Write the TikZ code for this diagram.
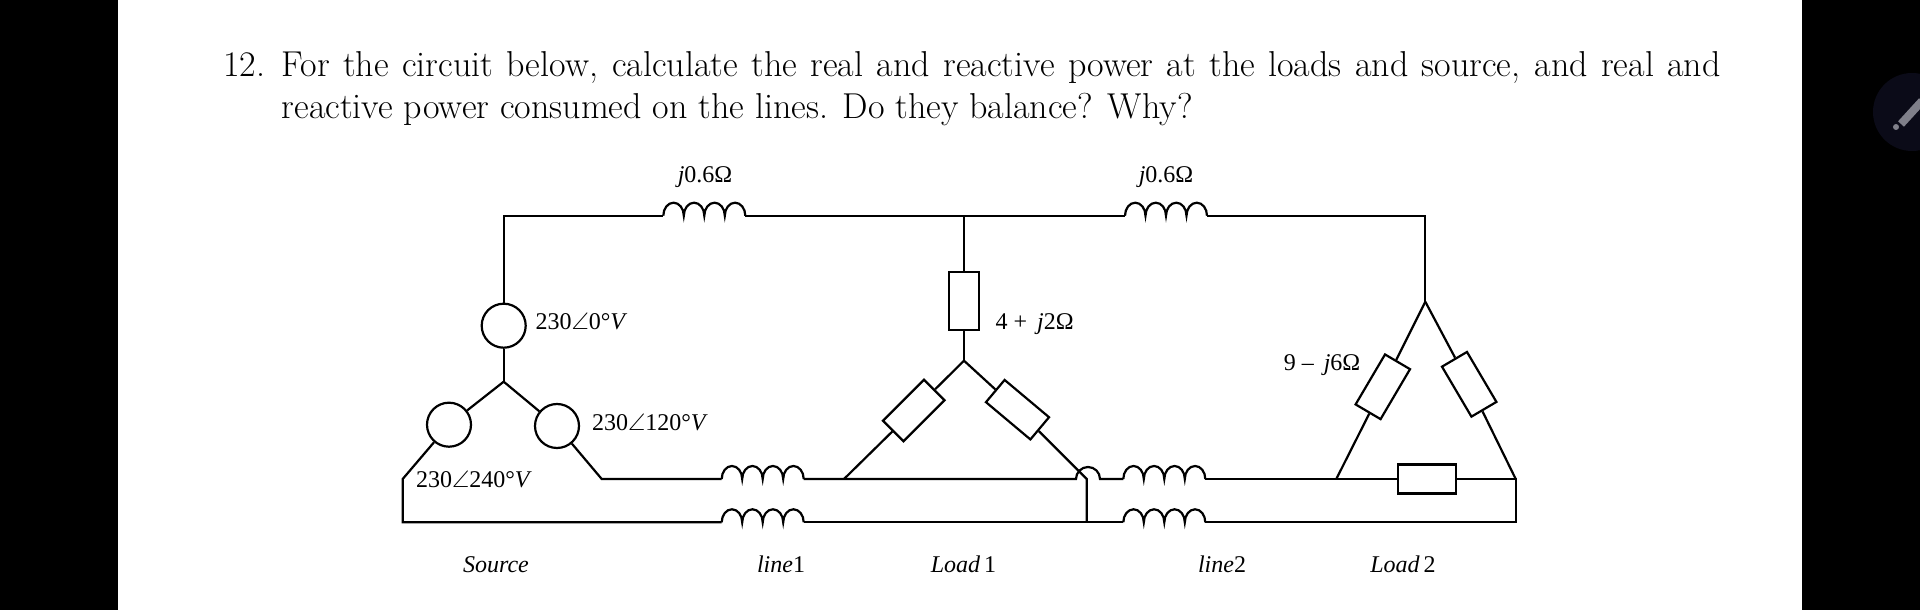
\documentclass[tikz,border=0pt]{standalone}
\usepackage{amssymb}
\usepackage{fontspec}
\newfontfamily\labelfont{Liberation Serif}
\definecolor{iconbg}{HTML}{0B0B18}
\definecolor{iconfg}{HTML}{80808A}
\tikzset{
  wire/.style={line width=2.2pt, line join=miter},
  source/.style={circle, draw=black, line width=2.2pt, minimum size=44pt, inner sep=0pt},
  load/.style={rectangle, draw=black, line width=2.2pt, minimum width=58pt, minimum height=29pt, inner sep=0pt},
  lab/.style={inner sep=0pt, font=\labelfont\fontsize{24}{24}\selectfont},
  question/.style={inner sep=0pt, anchor=base west, font=\fontsize{36}{41.7}\selectfont}
}
\newcommand{\coil}[3]{
\coordinate (#1a) at (#2,#3);
\coordinate (#1b) at (#2+82,#3);
\draw[wire] (#1a) arc[start angle=180, end angle=0, x radius=10.25pt, y radius=13pt]
  arc[start angle=180, end angle=0, x radius=10.25pt, y radius=13pt]
  arc[start angle=180, end angle=0, x radius=10.25pt, y radius=13pt]
  arc[start angle=180, end angle=0, x radius=10.25pt, y radius=13pt];
}
\begin{document}
\begin{tikzpicture}[x=1pt, y=1pt]
\useasboundingbox (0,0) rectangle (1920,610);
\fill[black] (0,0) rectangle (118,610);
\fill[black] (1802,0) rectangle (1920,610);
\begin{scope}
\clip (1802,0) rectangle (1920,610);
\fill[iconbg] (1912,498) circle (39);
\draw[iconfg, line width=8pt] (1901,486) -- (1922,509);
\fill[iconfg] (1896,483) circle (3);
\end{scope}

% question
\node[question] (num) at (223,533) {12.};
\node[question, text width=1439pt, align=justify] (text) at (281.5,533) {For the circuit below, calculate the real and reactive power at the loads and source, and real and\linebreak reactive power consumed on the lines. Do they balance? Why?};

% source
\node[source] (srcA) at (503.7,284.3) {};
\node[source] (srcC) at (449,185.3) {};
\node[source] (srcB) at (557,184) {};
\coordinate (star) at (503.7,228.3);
\coordinate (topleft) at (503.7,394.3);
\coordinate (cornerC) at (402.7,131);
\coordinate (cornerD) at (402.7,87.7);
\coordinate (cornerB) at (601.7,131);

% lines
\coil{topone}{663.3}{394.3}
\coil{toptwo}{1125}{394.3}
\coil{upone}{721.7}{131}
\coil{lowone}{721.7}{87.7}
\coil{uptwo}{1123.3}{131}
\coil{lowtwo}{1123.3}{87.7}

% load 1
\node[load, minimum width=58pt, minimum height=29.5pt, rotate=90] (ra) at (964,309) {};
\node[load, rotate=45] (rb) at (913.7,199.5) {};
\node[load, rotate=-40] (rc) at (1017.5,200.3) {};
\coordinate (apexone) at (964,249.3);
\coordinate (topmid) at (964,394.3);
\coordinate (footone) at (844,131);
\coordinate (jumpin) at (1076,131);
\coordinate (jumpout) at (1100,131);
\coordinate (tie) at (1086.7,131);
\coordinate (tielow) at (1086.7,87.7);

% load 2
\node[load, rotate=59.5] (rd) at (1382.8,223.2) {};
\node[load, rotate=-59.5] (re) at (1469.2,225.7) {};
\node[load] (rf) at (1426.8,131) {};
\coordinate (apextwo) at (1425.3,308.3);
\coordinate (topright) at (1425.3,394.3);
\coordinate (foottwo) at (1336.3,131);
\coordinate (footthree) at (1515.7,131);
\coordinate (cornerR) at (1515.7,87.7);

\draw[wire] (srcA) -- (topleft) -- (toponea);
\draw[wire] (toponeb) -- (topmid) -- (toptwoa);
\draw[wire] (toptwob) -- (topright) -- (apextwo);
\draw[wire] (srcA) -- (star);
\draw[wire] (star) -- (srcC);
\draw[wire] (star) -- (srcB);
\draw[wire] (srcC) -- (cornerC) -- (cornerD) -- (lowonea);
\draw[wire] (srcB) -- (cornerB) -- (uponea);
\draw[wire] (topmid) -- (ra);
\draw[wire] (ra) -- (apexone);
\draw[wire] (apexone) -- (rb);
\draw[wire] (rb) -- (footone);
\draw[wire] (apexone) -- (rc);
\draw[wire] (rc) -- (tie) -- (tielow);
\draw[wire] (uponeb) -- (jumpin) arc[start angle=180, end angle=0, radius=12pt] -- (uptwoa);
\draw[wire] (lowoneb) -- (lowtwoa);
\draw[wire] (uptwob) -- (rf);
\draw[wire] (rf) -- (footthree) -- (cornerR) -- (lowtwob);
\draw[wire] (apextwo) -- (rd);
\draw[wire] (rd) -- (foottwo);
\draw[wire] (apextwo) -- (re);
\draw[wire] (re) -- (footthree);

% labels
\node[lab] (labtopone) at (705,432.5) {\textit{j}0.6Ω};
\node[lab] (labtoptwo) at (1166,432.5) {\textit{j}0.6Ω};
\node[lab] (laba) at (581.5,289) {230$\angle$0°\textit{V}};
\node[lab] (labb) at (650,188) {230$\angle$120°\textit{V}};
\node[lab] (labc) at (474,131) {230$\angle$240°\textit{V}};
\node[lab] (labload) at (1034.6,285.5) {4 + \,\textit{j}2Ω};
\node[lab] (labdelta) at (1322,244.5) {9 – \,\textit{j}6Ω};
\node[lab] (labsource) at (496,45.5) {\textit{Source}};
\node[lab] (labline) at (781,45.5) {\textit{line}1};
\node[lab] (labloadone) at (963.5,45.5) {\textit{Load}\,1};
\node[lab] (lablinetwo) at (1222,45.5) {\textit{line}2};
\node[lab] (labloadtwo) at (1403,45.5) {\textit{Load}\,2};
\end{tikzpicture}
\end{document}
